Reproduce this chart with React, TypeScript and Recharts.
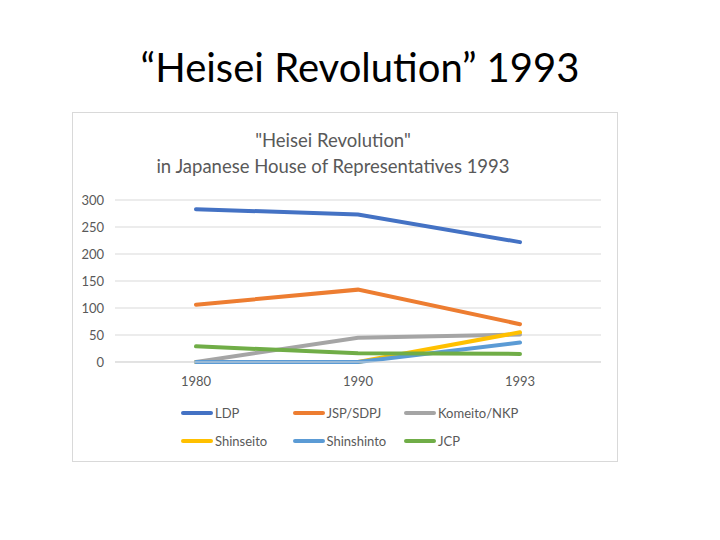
import React from "react";
import { LineChart, Line, XAxis, YAxis, CartesianGrid } from "recharts";

const years = ["1980", "1990", "1993"];
const ldp = [283, 273, 222];
const jsp = [106, 134, 70];
const komeito = [0, 45, 51];
const shinseito = [0, 0, 55];
const shinshinto = [0, 0, 36];
const jcp = [29, 16, 15];
const yTicks = [0, 50, 100, 150, 200, 250, 300];

const series = [
  { key: "ldp", name: "LDP", values: ldp, color: "#4472C4" },
  { key: "jsp", name: "JSP/SDPJ", values: jsp, color: "#ED7D31" },
  { key: "komeito", name: "Komeito/NKP", values: komeito, color: "#A5A5A5" },
  { key: "shinseito", name: "Shinseito", values: shinseito, color: "#FFC000" },
  { key: "shinshinto", name: "Shinshinto", values: shinshinto, color: "#5B9BD5" },
  { key: "jcp", name: "JCP", values: jcp, color: "#70AD47" },
];

const data = years.map((year, i) => {
  const row: Record<string, string | number> = { year };
  series.forEach((s) => (row[s.key] = s.values[i]));
  return row;
});

const FONT = "Lato, 'Open Sans', sans-serif";
const GRAY = "#595959";

export default function App() {
  return (
    <div
      style={{
        position: "absolute",
        left: 0,
        top: 0,
        width: 720,
        height: 540,
        background: "#fff",
        fontFamily: FONT,
      }}
    >
      {/* slide title */}
      <div
        style={{
          position: "absolute",
          left: 0,
          top: 47,
          width: 720,
          textAlign: "center",
          fontSize: 40,
          lineHeight: 1,
          color: "#000",
        }}
      >
        “Heisei Revolution” 1993
      </div>

      {/* chart box */}
      <div
        style={{
          position: "absolute",
          left: 72,
          top: 112,
          width: 544,
          height: 348,
          border: "1px solid #d9d9d9",
        }}
      >
        <div
          style={{
            position: "absolute",
            left: 0,
            top: 18,
            width: 520,
            textAlign: "center",
            fontSize: 18.5,
            lineHeight: 1,
            color: GRAY,
          }}
        >
          "Heisei Revolution"
        </div>
        <div
          style={{
            position: "absolute",
            left: 0,
            top: 44,
            width: 520,
            textAlign: "center",
            fontSize: 18.5,
            lineHeight: 1,
            color: GRAY,
          }}
        >
          in Japanese House of Representatives 1993
        </div>

        <LineChart
          width={544}
          height={348}
          data={data}
          margin={{ top: 87, right: 16, bottom: 69, left: 0 }}
        >
          <CartesianGrid vertical={false} stroke="#d9d9d9" />
          <XAxis
            dataKey="year"
            padding={{ left: 81, right: 81 }}
            tickLine={false}
            axisLine={{ stroke: "#d9d9d9" }}
            tickMargin={9}
            height={30}
            tick={{ fill: GRAY, fontSize: 13, fontFamily: FONT }}
          />
          <YAxis
            width={42}
            domain={[0, 300]}
            ticks={yTicks}
            tickLine={false}
            axisLine={false}
            tickMargin={5}
            tick={{ fill: GRAY, fontSize: 13, fontFamily: FONT }}
          />
          {series.map((s) => (
            <Line
              key={s.key}
              type="linear"
              dataKey={s.key}
              name={s.name}
              stroke={s.color}
              strokeWidth={4}
              strokeLinecap="round"
              dot={false}
              activeDot={false}
              isAnimationActive={false}
            />
          ))}
        </LineChart>

        {/* legend */}
        {[0, 1].map((row) => (
          <div
            key={row}
            style={{
              position: "absolute",
              top: 292 + row * 28,
              left: 0,
              height: 16,
              width: 544,
            }}
          >
            {series.slice(row * 3, row * 3 + 3).map((s, col) => (
              <div
                key={s.key}
                style={{
                  position: "absolute",
                  left: 108 + col * 111.5,
                  top: 0,
                  height: 16,
                  display: "flex",
                  alignItems: "center",
                  fontSize: 13,
                  color: GRAY,
                  whiteSpace: "nowrap",
                }}
              >
                <span
                  style={{
                    display: "inline-block",
                    width: 32,
                    height: 4,
                    borderRadius: 2,
                    background: s.color,
                    marginRight: 2,
                  }}
                />
                {s.name}
              </div>
            ))}
          </div>
        ))}
      </div>
    </div>
  );
}
